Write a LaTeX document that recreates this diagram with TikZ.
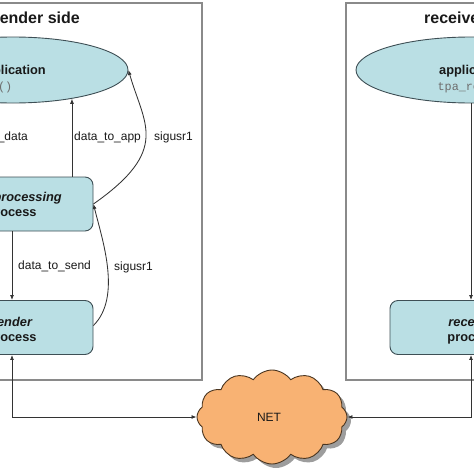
\documentclass[tikz,border=0pt]{standalone}
\usepackage{fontspec}
\setmainfont{Liberation Sans}
\setmonofont{Liberation Mono}
\usetikzlibrary{shapes.geometric,shapes.symbols,shadows,arrows.meta}
\definecolor{boxfill}{HTML}{BADFE4}
\definecolor{boxdraw}{HTML}{3E4F55}
\definecolor{framec}{HTML}{8A8A8A}
\definecolor{cloudfill}{HTML}{F8B273}
\definecolor{clouddraw}{HTML}{4A3520}
\definecolor{monoc}{HTML}{6E6E6E}
\definecolor{linec}{HTML}{333333}
\begin{document}
\begin{tikzpicture}[x=1pt,y=-1pt,
  frame/.style={draw=framec,line width=1.3pt},
  appell/.style={ellipse,draw=boxdraw,fill=boxfill,line width=0.9pt,minimum width=230pt,minimum height=66pt,inner sep=0pt},
  procbox/.style={rectangle,rounded corners=8pt,draw=boxdraw,fill=boxfill,line width=0.9pt,minimum width=162pt,minimum height=54pt,inner sep=0pt},
  conn/.style={draw=linec,line width=0.85pt,-{Latex[length=5pt,width=4pt]}},
  biconn/.style={draw=linec,line width=0.85pt,{Latex[length=5pt,width=4pt]}-{Latex[length=5pt,width=4pt]}},
  lbl/.style={font=\fontsize{12}{14}\selectfont,inner sep=0pt,text=black!90},
  boldtxt/.style={font=\fontsize{12.8}{15}\selectfont\bfseries,inner sep=0pt,text=black!90},
  bitxt/.style={font=\fontsize{12.8}{15}\selectfont\bfseries\itshape,inner sep=0pt,text=black!90},
  monotxt/.style={font=\fontsize{11.8}{14}\selectfont\ttfamily,text=monoc,inner sep=0pt},
  titletxt/.style={font=\fontsize{16}{19}\selectfont\bfseries,inner sep=0pt,text=black!90},
  netcloud/.style={cloud,cloud puffs=12,cloud puff arc=110,aspect=1.55,draw=clouddraw,fill=cloudfill,line width=0.9pt,minimum width=150pt,minimum height=94pt,inner sep=0pt,
    drop shadow={shadow xshift=4pt,shadow yshift=-4pt,fill=black!45,opacity=0.85}}]
\useasboundingbox (0,0) rectangle (474,474);
\clip (0,0) rectangle (474,474);
% frames
\draw[frame] (-120,3) rectangle (202,380);
\draw[frame] (346,3) rectangle (620,380);
% titles
\node[titletxt,anchor=base east] (stitle) at (80,23) {sender side};
\node[titletxt,anchor=base west] (rtitle) at (424,23) {receiver side};
% shapes
\node[appell] (sapp) at (13,70) {};
\node[appell] (rapp) at (471,70) {};
\node[procbox] (sdp) at (12,204) {};
\node[procbox] (ssp) at (12,327.5) {};
\node[procbox] (rrp) at (471,327.5) {};
\node[netcloud] (net) at (272,417) {};
% texts in shapes
\node[boldtxt,anchor=base] (sappt) at (12,74) {application};
\node[monotxt,anchor=base east] (sappm) at (12.5,90) {tpa\_send()};
\node[boldtxt,anchor=base] (rappt) at (473,74) {application};
\node[monotxt,anchor=base] (rappm) at (473,90) {tpa\_recv()};
\node[bitxt,anchor=base east] (sdpt1) at (62,201) {processing};
\node[boldtxt,anchor=base] (sdpt2) at (12,216) {process};
\node[bitxt,anchor=base] (sspt1) at (11,326) {sender};
\node[boldtxt,anchor=base] (sspt2) at (12,341) {process};
\node[bitxt,anchor=base] (rrpt1) at (473,326) {receiver};
\node[boldtxt,anchor=base] (rrpt2) at (472,341) {process};
\node[lbl] (nett) at (269,417) {NET};
% connectors
\draw[conn] (sdp.north -| sapp.-26.5) -- (sapp.-26.5);
\draw[conn] (sdp.south) -- (ssp.north);
\draw[conn] (sdp.east) .. controls +(77.5,-54.4) and +(15.5,54.4) .. (sapp.east);
\draw[conn] ([yshift=2pt]ssp.east) .. controls +(28.6,-28.6) and +(8.7,35.3) .. (sdp.east);
\draw[conn] (rapp.south) -- (rrp.north);
\draw[biconn] (ssp.south) |- (net.west);
\draw[biconn] (rrp.south) |- (net.east);
% labels
\node[lbl,anchor=east] (l5) at (28,137) {send\_data};
\node[lbl,anchor=west] (l2) at (74,137) {data\_to\_app};
\node[lbl,anchor=west] (l3) at (154,137) {sigusr1};
\node[lbl,anchor=west] (l1) at (18,266) {data\_to\_send};
\node[lbl,anchor=west] (l4) at (114,267) {sigusr1};
\end{tikzpicture}
\end{document}
